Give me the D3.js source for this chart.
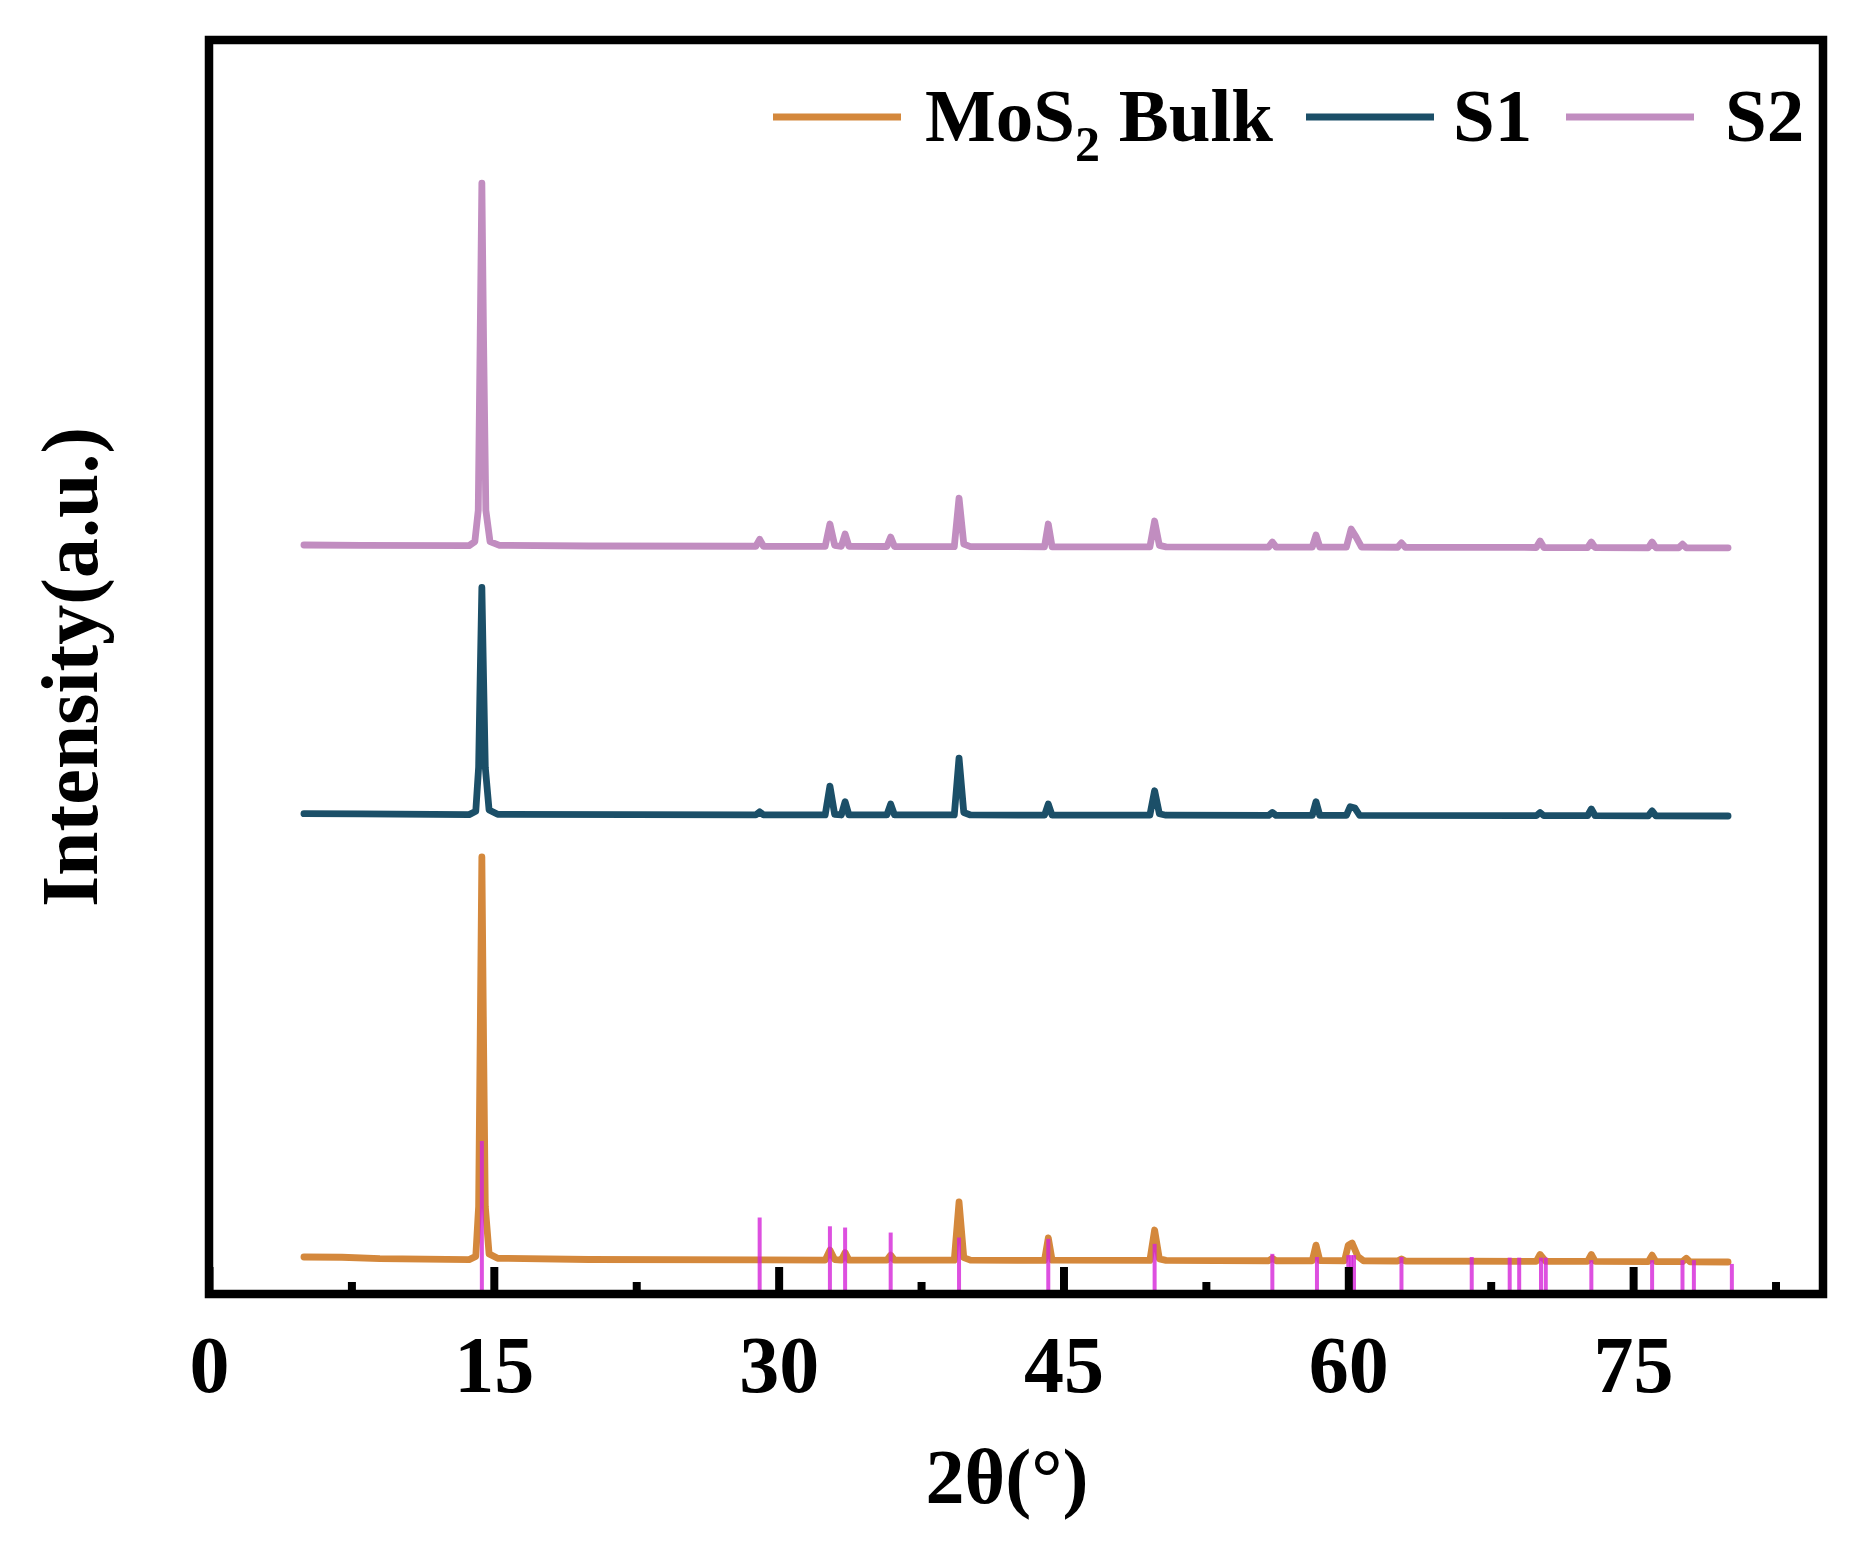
<!DOCTYPE html>
<html>
<head>
<meta charset="utf-8">
<script src="https://cdn.jsdelivr.net/npm/d3@7"></script>
<style>
  html, body { margin: 0; padding: 0; background: #fff; }
  svg { display: block; }
  text { font-family: "Liberation Serif", "Times New Roman", "DejaVu Serif", serif; font-weight: bold; fill: #000; }
</style>
</head>
<body>
<svg id="chart" width="1854" height="1546"></svg>
<script>
// ---------------- data ----------------
const seriesNames = ["MoS2 Bulk", "S1", "S2"];
const seriesColors = ["#d4883c", "#1b4f68", "#c18dc0"];

// [2θ (°), intensity (a.u., offset included)]
const bulkPoints = [
  [5.0, 29.5], [7.0, 29.3], [9.0, 28.2], [13.7, 27.4], [14.05, 30], [14.2, 70], [14.28, 200], [14.37, 348.5], [14.46, 200], [14.55, 70], [14.75, 32], [15.2, 28.5],
  [20, 27.5], [28.8, 27.2], [32.45, 27.0], [32.7, 35], [32.95, 27.5], [33.3, 27.0], [33.5, 33], [33.7, 27.0],
  [35.7, 27.0], [35.9, 31], [36.1, 27.0], [39.25, 27.0], [39.5, 73.4], [39.75, 29], [40.1, 27.0],
  [44.0, 26.8], [44.2, 44.7], [44.4, 27.0], [49.55, 26.8], [49.8, 51], [50.05, 28], [50.4, 26.8],
  [55.8, 26.5], [56.0, 28.5], [56.2, 26.5], [58.1, 26.5], [58.3, 39], [58.5, 26.7],
  [59.8, 26.5], [60.0, 39], [60.2, 40.7], [60.5, 30], [60.8, 26.5], [62.6, 26.3], [62.8, 28], [63.0, 26.3],
  [69.9, 26.0], [70.1, 31.5], [70.4, 26.0], [72.6, 26.0], [72.8, 31.5], [73.0, 26.0],
  [75.8, 25.8], [76.0, 31], [76.2, 25.8], [77.6, 25.8], [77.8, 28.5], [78.0, 25.6], [80.0, 25.5]
];
const s1Points = [
  [5.0, 383], [8.0, 382.8], [13.7, 382.3], [14.05, 385], [14.2, 420], [14.28, 490], [14.37, 563.4], [14.46, 490], [14.55, 420], [14.75, 386], [15.2, 382.5],
  [28.8, 382], [29.0, 384.5], [29.2, 382], [32.45, 382], [32.7, 405], [32.95, 382.5], [33.3, 382], [33.5, 392.6], [33.7, 382],
  [35.7, 382], [35.9, 390.7], [36.1, 382], [39.25, 382], [39.5, 427.4], [39.75, 384], [40.1, 382],
  [44.0, 381.8], [44.2, 390.7], [44.4, 381.8], [49.55, 381.8], [49.8, 401.3], [50.05, 383], [50.4, 381.8],
  [55.8, 381.6], [56.0, 384], [56.2, 381.6], [58.1, 381.6], [58.3, 392.6], [58.5, 381.6],
  [59.9, 381.6], [60.1, 388.6], [60.35, 387.5], [60.6, 381.6],
  [69.9, 381.4], [70.1, 384], [70.3, 381.4], [72.6, 381.4], [72.8, 386.8], [73.0, 381.4],
  [75.8, 381.3], [76.0, 385.2], [76.2, 381.3], [80.0, 381.2]
];
const s2Points = [
  [5.0, 597.3], [8.0, 597.0], [13.7, 596.8], [14.0, 600], [14.18, 625], [14.28, 760], [14.37, 885.9], [14.46, 760], [14.58, 625], [14.8, 600], [15.3, 597],
  [20, 596.5], [28.8, 596.3], [29.0, 601.8], [29.2, 596.3], [32.45, 596.2], [32.7, 614], [32.95, 597], [33.3, 596.2], [33.5, 606], [33.7, 596.2],
  [35.7, 596.1], [35.9, 603.6], [36.1, 596.1], [39.25, 596.0], [39.5, 634.7], [39.75, 598], [40.1, 596.0],
  [44.0, 595.9], [44.2, 614], [44.4, 595.9], [49.55, 595.8], [49.8, 616.4], [50.05, 597], [50.4, 595.8],
  [55.8, 595.6], [56.0, 599.7], [56.2, 595.6], [58.1, 595.6], [58.3, 605.3], [58.5, 595.6],
  [59.9, 595.6], [60.15, 610], [60.4, 604], [60.7, 595.6], [62.6, 595.5], [62.8, 599], [63.0, 595.5],
  [69.9, 595.3], [70.1, 600.5], [70.3, 595.3], [72.6, 595.2], [72.8, 599.7], [73.0, 595.2],
  [75.8, 595.1], [76.0, 599.7], [76.2, 595.1], [77.4, 595.1], [77.6, 598], [77.8, 595.0], [80.0, 595.0]
];
const seriesPoints = [bulkPoints, s1Points, s2Points];

// reference (standard card) stick pattern: positions and heights
const stickPositions = [14.37, 29.0, 32.7, 33.5, 35.9, 39.5, 44.2, 49.8, 56.0, 58.35, 60.0, 60.15, 60.3, 62.8, 66.5, 68.5, 69.0, 70.15, 70.4, 72.8, 76.0, 77.6, 78.2, 80.2];
const stickHeights   = [122,   61,   54,   53,   49,   45,   44,   40,   32,   29.5,  31,   31,    31,   29.5, 29.5, 29,   29,   29,    29,   27,   27,   27,   27,   24];

const xTickValues = [0, 15, 30, 45, 60, 75];
const xMinorTicks = [7.5, 22.5, 37.5, 52.5, 67.5, 82.5];
const xTitle = "2θ(°)";
const yTitle = "Intensity(a.u.)";

// ---------------- layout ----------------
const svg = d3.select("#chart");
const L = 209, R = 1823, T = 40, B = 1294;

const x = d3.scaleLinear().domain([0, 85]).range([L, R]);
const y = d3.scaleLinear().domain([0, 1000]).range([B, B - 1254]);

const line = d3.line().x(d => x(d[0])).y(d => y(d[1]));
const LW = 6.8;

// series lines (bulk first, sticks over it, then S1, S2)
const g = svg.append("g");
g.append("path").datum(seriesPoints[0])
  .attr("d", line).attr("fill", "none").attr("stroke", seriesColors[0])
  .attr("stroke-width", LW).attr("stroke-linejoin", "round").attr("stroke-linecap", "round");

g.append("g").selectAll("line").data(stickPositions).join("line")
  .attr("x1", d => x(d)).attr("x2", d => x(d))
  .attr("y1", y(0)).attr("y2", (d, i) => y(stickHeights[i]))
  .attr("stroke", "#d424d8").attr("stroke-opacity", 0.8).attr("stroke-width", 4);

[1, 2].forEach(i => {
  g.append("path").datum(seriesPoints[i])
    .attr("d", line).attr("fill", "none").attr("stroke", seriesColors[i])
    .attr("stroke-width", LW).attr("stroke-linejoin", "round").attr("stroke-linecap", "round");
});

// axes
const axMajor = d3.axisBottom(x).tickValues(xTickValues).tickSizeInner(-27).tickSizeOuter(0).tickPadding(41).tickFormat(d3.format("d"));
const gx = svg.append("g").attr("transform", `translate(0,${B})`).call(axMajor);
gx.select(".domain").remove();
gx.selectAll(".tick line").attr("stroke", "#000").attr("stroke-width", 8);
gx.selectAll(".tick text").attr("font-size", 80).attr("font-family", '"Liberation Serif", "Times New Roman", serif').attr("font-weight", "bold").attr("fill", "#000");

const axMinor = d3.axisBottom(x).tickValues(xMinorTicks).tickSizeInner(-12).tickSizeOuter(0).tickFormat("");
const gm = svg.append("g").attr("transform", `translate(0,${B})`).call(axMinor);
gm.select(".domain").remove();
gm.selectAll(".tick line").attr("stroke", "#000").attr("stroke-width", 8);

// frame
svg.append("rect").attr("x", L).attr("y", T).attr("width", R - L).attr("height", B - T)
  .attr("fill", "none").attr("stroke", "#000").attr("stroke-width", 8.5);

// axis titles
svg.append("text").attr("x", (L + R) / 2 - 9).attr("y", 1503).attr("text-anchor", "middle")
  .attr("font-size", 78).text(xTitle);
svg.append("text").attr("transform", `translate(97,${(T + B) / 2}) rotate(-90)`).attr("text-anchor", "middle")
  .attr("font-size", 80).text(yTitle);

// legend
const legendLineX = [773, 1306, 1566];
const legendTextX = [925, 1453, 1725];
const legY = 117, legBase = 141;
seriesNames.forEach((name, i) => {
  svg.append("line").attr("x1", legendLineX[i]).attr("x2", legendLineX[i] + 128)
    .attr("y1", legY).attr("y2", legY).attr("stroke", seriesColors[i]).attr("stroke-width", 7);
  const t = svg.append("text").attr("x", legendTextX[i]).attr("y", legBase).attr("font-size", 75);
  if (name.startsWith("MoS2")) {
    t.append("tspan").text("MoS");
    t.append("tspan").attr("font-size", 50).attr("dy", 20).text("2");
    t.append("tspan").attr("dy", -20).text(" Bulk");
  } else {
    t.text(name);
  }
});
</script>
</body>
</html>
